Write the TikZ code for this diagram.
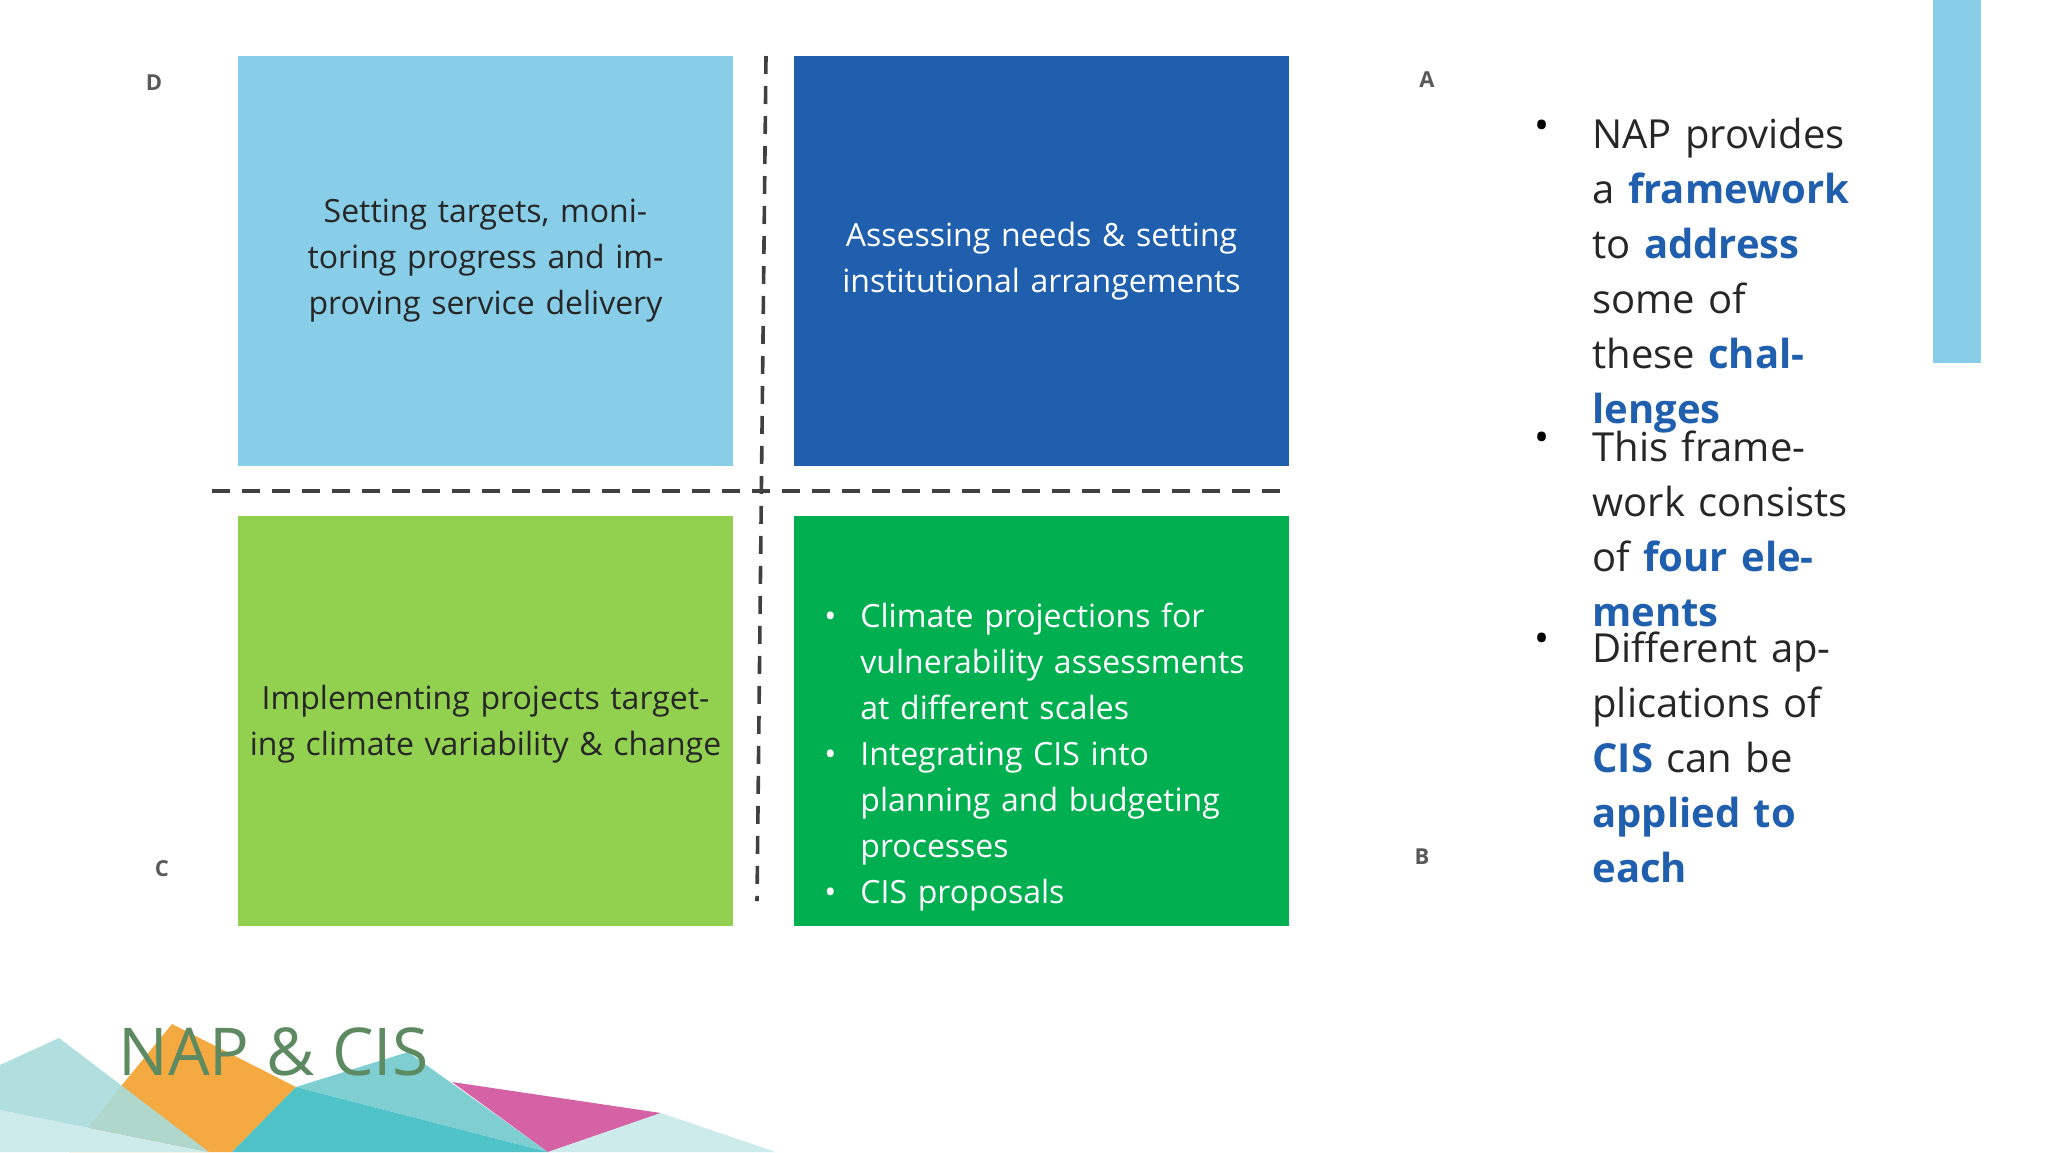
\documentclass[tikz,border=0pt]{standalone}
\usepackage{fontspec}
\setmainfont{Open Sans}
\definecolor{lb}{HTML}{89CEE8}
\definecolor{db}{HTML}{1F5FAD}
\definecolor{lg}{HTML}{92D050}
\definecolor{dg}{HTML}{00B050}
\definecolor{tg}{HTML}{5E8A62}
\definecolor{lbl}{HTML}{595959}
\definecolor{orn}{HTML}{F5A941}
\definecolor{tl}{HTML}{A8DCDC}
\definecolor{tp}{HTML}{CDEBEB}
\definecolor{tm}{HTML}{4FC3C8}
\definecolor{tu}{HTML}{7FCFD2}
\definecolor{mg}{HTML}{D462A4}
\tikzset{
  quad/.style={inner sep=0pt, minimum width=247.5pt, minimum height=205pt},
  qtext/.style={align=center, font=\fontsize{16}{23}\selectfont, text width=240pt},
  letter/.style={font=\bfseries\fontsize{11}{13}\selectfont, text=lbl},
  sep/.style={draw=black!75, line width=1.8pt, dash pattern=on 9pt off 6pt},
  rtext/.style={anchor=north west, align=left, text width=130pt, font=\fontsize{20}{27.5}\selectfont, inner sep=0pt, text=black!85},
  bul/.style={anchor=north, font=\fontsize{20}{27.5}\selectfont, inner sep=0pt},
}
\newcommand{\hb}[1]{\textcolor{db}{\textbf{#1}}}
\begin{document}
\begin{tikzpicture}[x=0.5pt,y=-0.5pt]
\useasboundingbox (0,0) rectangle (2048,1152);
% decoration
\fill[orn] (69,1152) -- (122,1085) -- (172,1024) -- (296,1087) -- (232,1152) -- cycle;
\fill[tp] (0,1110) -- (209,1152) -- (0,1152) -- cycle;
\fill[tl, opacity=0.9] (0,1065) -- (59,1038) -- (209,1152) -- (0,1110) -- cycle;
\fill[tu] (296,1087) -- (408,1052) -- (548,1152) -- cycle;
\fill[tm] (296,1087) -- (548,1152) -- (232,1152) -- cycle;
\fill[mg] (452,1082) -- (661,1113) -- (548,1152) -- cycle;
\fill[tp] (661,1113) -- (776,1152) -- (548,1152) -- cycle;
\node[anchor=west, inner sep=0pt, text=tg, font=\fontsize{33}{36}\selectfont] (title) at (118,1052) {NAP \& CIS};
% right bar
\fill[lb] (1933,0) rectangle (1981,363);
% quadrants
\node[quad, fill=lb] (d) at (485.5,261) {};
\node[quad, fill=db] (a) at (1041.5,261) {};
\node[quad, fill=lg] (c) at (485.5,721) {};
\node[quad, fill=dg] (b) at (1041.5,721) {};
\node[qtext, text=black!85] (dt) at (d.center) {Setting targets, monitoring progress and improving service delivery};
\node[qtext, text=white] (at) at (a.center) {Assessing needs \& setting institutional arrangements};
\node[qtext, text=black!85] (ct) at (485.5,724) {Implementing projects targeting climate variability \& change};
\node[anchor=north west, text=white, align=left, inner sep=0pt, text width=225pt, font=\fontsize{16}{23}\selectfont] (bt) at (810,565) {%
\begin{itemize}\setlength{\itemsep}{0pt}\setlength{\parskip}{0pt}\setlength{\leftmargin}{21pt}\setlength{\labelsep}{12pt}
\item[\textbullet] Climate projections for vulnerability assessments at different scales
\item[\textbullet] Integrating CIS into planning and budgeting processes
\item[\textbullet] CIS proposals
\end{itemize}};
% separators
\coordinate (h1) at (212,491); \coordinate (h2) at (1289,491);
\coordinate (v1) at (766,56); \coordinate (v2) at (757,901);
\draw[sep] (h1) -- (h2);
\draw[sep] (v1) -- (v2);
% letters
\node[letter] (ld) at (154,83) {D};
\node[letter] (la) at (1427,80) {A};
\node[letter] (lc) at (162,869) {C};
\node[letter] (lb2) at (1422,857) {B};
% right text
\node[bul] (b1) at (1542,120) {\textbullet};
\node[rtext] (r1) at (1592,118) {NAP provides a \hb{framework} to \hb{address} some of these \hb{challenges}};
\node[bul] (b2) at (1542,432) {\textbullet};
\node[rtext] (r2) at (1592,430) {This framework consists of \hb{four elements}};
\node[bul] (b3) at (1542,633) {\textbullet};
\node[rtext] (r3) at (1592,631) {Different applications of \hb{CIS} can be \hb{applied to each}};
\end{tikzpicture}
\end{document}
